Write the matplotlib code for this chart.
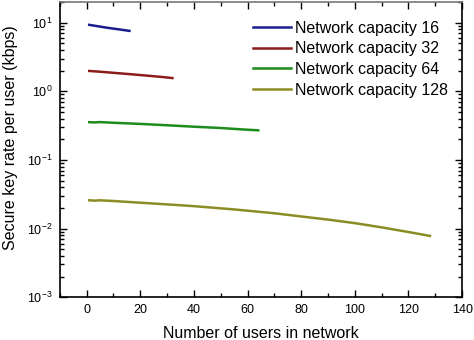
import matplotlib
matplotlib.use("Agg")
from matplotlib import pyplot as plt
from matplotlib.ticker import LogLocator, MultipleLocator, NullFormatter

plt.rcParams['font.family'] = ['Liberation Sans', 'DejaVu Sans']

# users in network vs secure key rate per user (kbps)
users_16 = [1, 4, 8, 12, 16]
rate_16 = [9.3, 8.9, 8.4, 8.0, 7.6]

users_32 = [1, 5, 10, 16, 22, 28, 32]
rate_32 = [1.98, 1.93, 1.86, 1.78, 1.70, 1.62, 1.56]

users_64 = [1, 3, 5, 10, 20, 30, 40, 50, 57, 64]
rate_64 = [0.355, 0.352, 0.356, 0.348, 0.335, 0.320, 0.305, 0.292, 0.280, 0.270]

users_128 = [1, 3, 5, 10, 20, 30, 40, 55, 70, 80, 90, 100, 110, 120, 128]
rate_128 = [0.0258, 0.0255, 0.0258, 0.0252, 0.0238, 0.0225, 0.0212, 0.0190, 0.0167,
            0.0150, 0.0135, 0.0120, 0.0104, 0.0089, 0.0078]

labels = ["Network capacity 16", "Network capacity 32",
          "Network capacity 64", "Network capacity 128"]
colors = ["#1c1c8c", "#8c1c1c", "#1c8c1c", "#8c8c24"]

fig = plt.figure(figsize=(4.74, 3.40), dpi=100)
ax = fig.add_axes([0.126, 0.126, 0.849, 0.868])

series = [(users_16, rate_16), (users_32, rate_32), (users_64, rate_64), (users_128, rate_128)]
for (x, y), lab, c in zip(series, labels, colors):
    ax.plot(x, y, color=c, lw=1.8, label=lab)

ax.set_yscale("log")
ax.set_xlim(-10, 140)
ax.set_ylim(1e-3, 20)
ax.xaxis.set_major_locator(MultipleLocator(20))
ax.xaxis.set_minor_locator(MultipleLocator(10))
ax.yaxis.set_major_locator(LogLocator(base=10, numticks=10))
ax.yaxis.set_minor_locator(LogLocator(base=10, subs=range(2, 10), numticks=10))
ax.yaxis.set_minor_formatter(NullFormatter())

ax.tick_params(which="both", direction="in", top=True, right=True, labelsize=9, width=1.0)
ax.tick_params(which="major", length=5, pad=5)
ax.tick_params(which="minor", length=3)
for s in ax.spines.values():
    s.set_linewidth(1.2)
ax.spines["top"].set_color("#777777")

ax.set_xlabel("Number of users in network", fontsize=11.5, labelpad=7)
ax.set_ylabel("Secure key rate per user (kbps)", fontsize=11.5)
ax.yaxis.set_label_coords(-0.103, 0.54)

leg = ax.legend(loc="upper right", bbox_to_anchor=(0.972, 0.948), frameon=False,
                fontsize=11.5, handlelength=2.4, handletextpad=0.2,
                labelspacing=0.36, borderaxespad=0.0, borderpad=0.2)

plt.savefig("out.png", dpi=100)
